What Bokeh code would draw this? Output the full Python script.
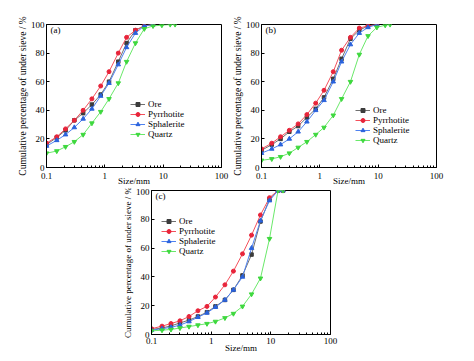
from bokeh.plotting import figure
from bokeh.layouts import column, row, Spacer
from bokeh.models import Legend, LegendItem, Label, FixedTicker, BasicTickFormatter
from bokeh.embed import file_html
from bokeh.resources import INLINE

# sieve sizes (mm)
sizes = [0.1, 0.15, 0.212, 0.3, 0.425, 0.6, 0.85, 1.18, 1.7, 2.36, 3.35, 4.75, 6.7, 9.5, 13.2, 16]

series_names = ["Ore", "Pyrrhotite", "Sphalerite", "Quartz"]

# panel (a)
ore_a = [16, 21, 26, 33, 38, 44, 51, 60, 74, 87, 96, 99, 100]
pyr_a = [17, 21.5, 27, 33, 40, 48, 57, 67, 80, 91, 96, 99, 100]
sph_a = [15, 19, 23, 28, 34, 41, 50, 59, 72, 84, 94, 99, 100]
qtz_a = [10, 11.5, 14.5, 18, 23, 31, 39, 48, 59, 74, 87, 97, 99, 99.5, 100, 100]

# panel (b)
ore_b = [12, 16, 20, 25, 29, 35, 41, 49, 62, 76, 90, 96, 99, 100]
pyr_b = [13, 17, 21.5, 26, 30.5, 37, 45, 54, 67, 82, 91, 97.5, 99, 100]
sph_b = [10, 13, 16, 20, 25, 32, 40, 47, 60, 74, 86, 94, 98, 100]
qtz_b = [5, 6, 7.5, 10, 14, 18, 23, 28, 36.5, 48, 60, 79, 92, 98, 99.5, 100]

# panel (c)
ore_c = [3.5, 4.5, 6, 8, 10, 12.5, 15.5, 19.5, 24, 31, 41, 55.5, 78.5, 94, 100, 100]
pyr_c = [4, 5.8, 7.6, 9.5, 12.5, 16.5, 19.5, 26, 34.5, 44, 56, 69, 83, 95, 100, 100]
sph_c = [3, 4, 5, 6.5, 9, 12, 15, 19, 24, 31, 40, 60, 79, 93, 100, 100]
qtz_c = [2.5, 3, 3.5, 4.5, 5.5, 6.5, 7.5, 9, 11.5, 14.5, 19.5, 28, 39, 66.5, 100, 100]

x_major = [0.1, 1, 10, 100]
x_minor = [m * d for d in [0.1, 1, 10] for m in range(2, 10)]
y_ticks = [0, 20, 40, 60, 80, 100]

FONT = "Liberation Serif"
styles = [
    dict(marker="square", line_color="#707070", mcolor="#3c3c3c", size=3.5),
    dict(marker="circle", line_color="#f4505c", mcolor="#e8243a", size=4),
    dict(marker="triangle", line_color="#4f82f0", mcolor="#2a62dc", size=4.5),
    dict(marker="inverted_triangle", line_color="#6ae86a", mcolor="#3ed83e", size=4.5),
]


def make_panel(tag, data, legend_xy, fw, fh, mb_left, mb_right, mb_top,
               tick_standoff, label_standoff, mb_bottom, ylabel_size):
    p = figure(x_axis_type="log", x_range=(0.1, 100), y_range=(0, 100),
               frame_width=fw, frame_height=fh,
               min_border_left=mb_left, min_border_right=mb_right,
               min_border_top=mb_top, min_border_bottom=mb_bottom,
               output_backend="svg", toolbar_location=None)
    p.grid.visible = False
    p.outline_line_color = "black"
    p.outline_line_width = 1
    p.background_fill_color = "white"
    p.border_fill_color = "white"

    p.xaxis.ticker = FixedTicker(ticks=x_major, minor_ticks=x_minor)
    p.xaxis.formatter = BasicTickFormatter()
    p.yaxis.ticker = FixedTicker(ticks=y_ticks)
    for ax in (p.xaxis, p.yaxis):
        ax.axis_line_color = "black"
        ax.major_tick_line_color = "black"
        ax.major_tick_in = 3
        ax.major_tick_out = 0
        ax.minor_tick_in = 2
        ax.minor_tick_out = 0
        ax.major_label_text_font = FONT
        ax.major_label_text_font_size = "9px"
        ax.major_label_text_color = "black"
        ax.axis_label_text_font = FONT
        ax.axis_label_text_font_style = "normal"
        ax.axis_label_text_color = "black"
    p.xaxis.axis_label_text_font_size = "9px"
    p.yaxis.axis_label_text_font_size = ylabel_size
    p.yaxis.minor_tick_line_color = None
    p.xaxis.minor_tick_line_color = "black"
    p.xaxis.axis_label = "Size/mm"
    p.yaxis.axis_label = "Cumulative percentage of under sieve / %"
    p.xaxis.major_label_standoff = tick_standoff
    p.xaxis.axis_label_standoff = label_standoff
    p.yaxis.major_label_standoff = 2
    p.yaxis.axis_label_standoff = 0

    items = []
    for name, vals, st in zip(series_names, data, styles):
        xs = sizes[:len(vals)]
        r1 = p.line(xs, vals, line_color=st["line_color"], line_width=1)
        r2 = p.scatter(xs, vals, marker=st["marker"], size=st["size"],
                       fill_color=st["mcolor"], line_color=st["mcolor"])
        items.append(LegendItem(label=name, renderers=[r1, r2]))

    leg = Legend(items=items, location=legend_xy, padding=0, margin=0, spacing=0,
                 glyph_height=10, glyph_width=15, label_height=10, label_standoff=3,
                 border_line_color=None, background_fill_alpha=0,
                 label_text_font=FONT, label_text_font_size="9px",
                 label_text_color="black")
    p.add_layout(leg, "center")

    p.add_layout(Label(x=4, y=fh - 5, x_units="screen", y_units="screen", text=tag,
                       text_font=FONT, text_font_size="9px", text_baseline="middle",
                       text_color="black"))
    return p


pa = make_panel("(a)", [ore_a, pyr_a, sph_a, qtz_a], (84, 28), 175, 143,
                46, 8, 24, 5, -6, 18, "9.5px")
pb = make_panel("(b)", [ore_b, pyr_b, sph_b, qtz_b], (94, 22), 175, 143,
                32, 22, 24, 5, -6, 18, "9.5px")
pc = make_panel("(c)", [ore_c, pyr_c, sph_c, qtz_c], (10, 78), 179, 144,
                38, 10, 2, 3, -4, 14, "9px")

layout = column(row(pa, pb), row(Spacer(width=113), pc))

open("out.html", "w").write(file_html(layout, INLINE))
